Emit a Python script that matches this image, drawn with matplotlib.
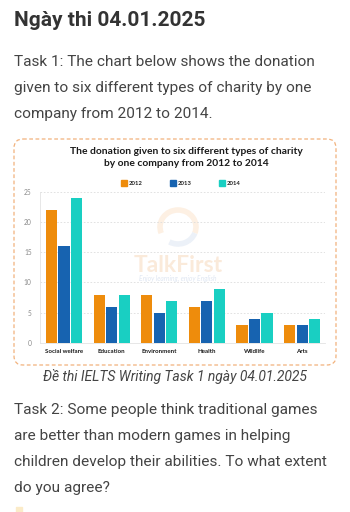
import numpy as np
import matplotlib
matplotlib.use("Agg")
import matplotlib.pyplot as plt
from matplotlib.patches import FancyBboxPatch, Rectangle, Arc

# data
categories = ["Social welfare", "Education", "Environment", "Health", "Wildlife", "Arts"]
years = ["2012", "2013", "2014"]
val_2012 = [22, 8, 8, 6, 3, 3]
val_2013 = [16, 6, 5, 7, 4, 3]
val_2014 = [24, 8, 7, 9, 5, 4]
yticks = [0, 5, 10, 15, 20, 25]

colors = ["#EE8C0C", "#1763B0", "#19CFC2"]

W, H = 350, 512
fig = plt.figure(figsize=(W / 100, H / 100), dpi=100)
fig.patch.set_facecolor("white")

# page layer in pixel coords
page = fig.add_axes([0, 0, 1, 1])
page.set_xlim(0, W)
page.set_ylim(H, 0)
page.axis("off")

body = "#444444"
page.text(14, 20, "Ngày thi 04.01.2025", family="Roboto", weight="bold",
          fontsize=15, color="#333333", va="center")

task1 = ["Task 1: The chart below shows the donation",
         "given to six different types of charity by one",
         "company from 2012 to 2014."]
for i, line in enumerate(task1):
    page.text(14, 62 + 26 * i, line, family="Roboto", fontsize=11.05,
              color=body, va="center")

box = FancyBboxPatch((14, 139), 322, 226, boxstyle="round,pad=0,rounding_size=9",
                     fill=False, edgecolor="#F2B27C", linestyle=(0, (3, 2)), lw=0.9)
page.add_patch(box)

page.text(186, 151, "The donation given to six different types of charity",
          family="Lato", weight="bold", fontsize=7.4, color="#1a1a1a", ha="center", va="center")
page.text(186, 164, "by one company from 2012 to 2014",
          family="Lato", weight="bold", fontsize=7.4, color="#1a1a1a", ha="center", va="center")

# legend
for x0, lab, c in zip([121, 170, 219], years, colors):
    page.add_patch(Rectangle((x0, 180), 6, 6, color=c))
    page.text(x0 + 8, 183.5, lab, family="Lato", weight="bold", fontsize=4.3,
              color="#222222", va="center")

# watermark (very faint)
page.add_patch(Arc((178, 227), 36, 34, theta1=-200, theta2=20, color="#FDF0E3", lw=4))
page.add_patch(Arc((178, 227), 36, 34, theta1=20, theta2=120, color="#ECF1F8", lw=4))
page.text(178, 265, "TalkFirst", family="Lato", weight="bold", fontsize=16.5,
          color="#F7D9BD", alpha=0.55, ha="center", va="center")
page.text(178, 278, "Enjoy learning, enjoy English", family="Lato", style="italic",
          fontsize=4.8, color="#C9D6EA", alpha=0.6, ha="center", va="center")

page.text(175, 376, "Đề thi IELTS Writing Task 1 ngày 04.01.2025", family="Roboto",
          style="italic", fontsize=10.0, color=body, ha="center", va="center")

task2 = ["Task 2: Some people think traditional games",
         "are better than modern games in helping",
         "children develop their abilities. To what extent",
         "do you agree?"]
for i, line in enumerate(task2):
    page.text(14, 410 + 26 * i, line, family="Roboto", fontsize=11.05,
              color=body, va="center")

page.add_patch(Rectangle((16, 507), 6, 5, color="#FBEBC8"))

# bar chart
ax = fig.add_axes([40 / W, 1 - 343 / H, 285 / W, (343 - 191.7) / H])
x = np.arange(len(categories))
bw = 0.235
step = 0.262
for k, (vals, c) in enumerate(zip([val_2012, val_2013, val_2014], colors)):
    ax.bar(x + (k - 1) * step, vals, width=bw, color=c, zorder=3)

ax.set_xlim(-0.504, 5.48)
ax.set_ylim(0, 25)
ax.set_yticks(yticks)
ax.set_yticklabels([str(t) for t in yticks], fontsize=4.8, color="#8a8a8a", family="Lato")
ax.set_xticks(x)
ax.set_xticklabels(categories, fontsize=4.4, color="#1a1a1a", family="Lato", weight="bold")
ax.tick_params(length=0, pad=4)
ax.tick_params(axis="y", pad=6)
for t in yticks[1:]:
    ax.axhline(t, color="#DDDDDD", lw=0.6, ls=(0, (2, 2)), zorder=1)
for s in ["top", "right"]:
    ax.spines[s].set_visible(False)
ax.spines["left"].set_color("#E3E3E3")
ax.spines["bottom"].set_color("#E3E3E3")
ax.spines["left"].set_linewidth(0.6)
ax.spines["bottom"].set_linewidth(0.6)
ax.patch.set_alpha(0)

fig.savefig("out.png", dpi=100)
